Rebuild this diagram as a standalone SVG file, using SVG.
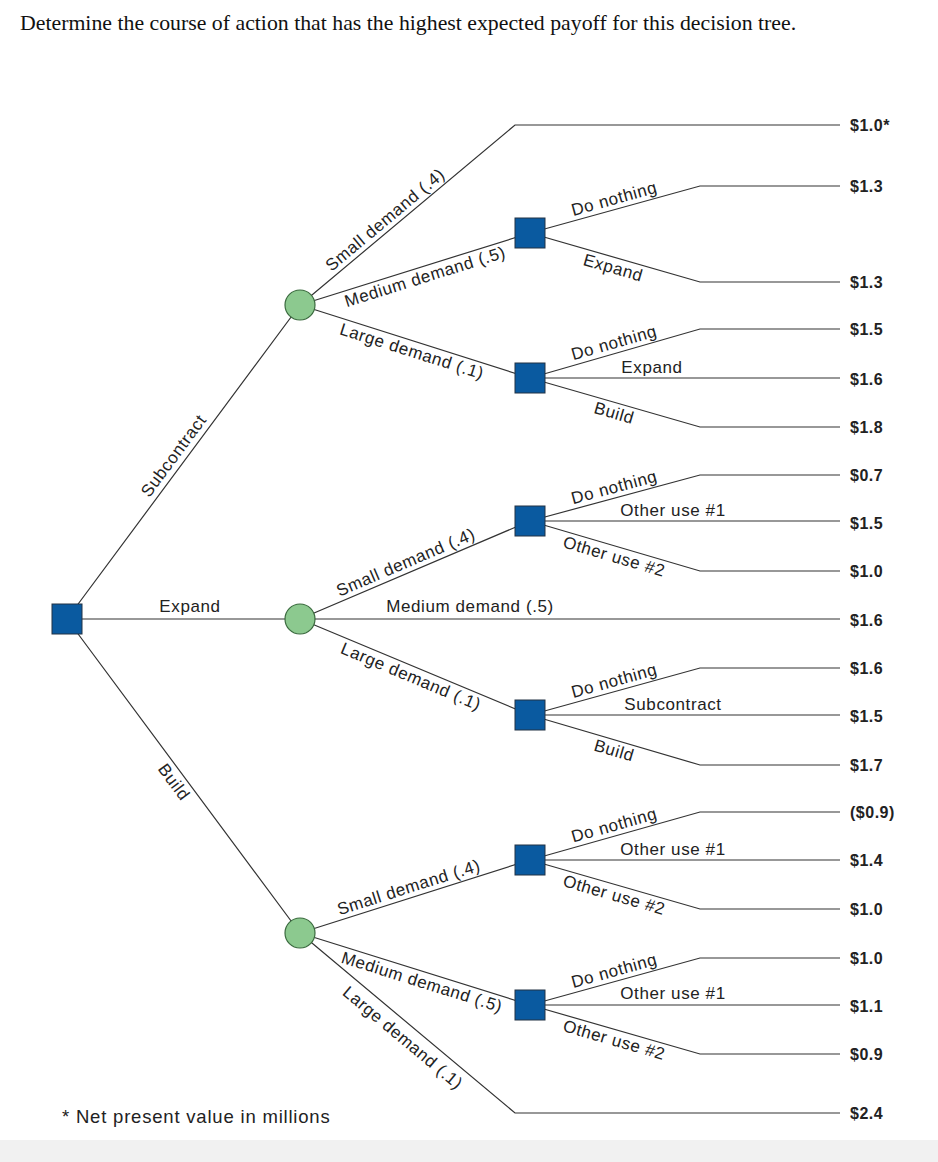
<svg xmlns="http://www.w3.org/2000/svg" width="938" height="1162" viewBox="0 0 938 1162">
<style>
.l{stroke:#333;stroke-width:1.2;fill:none}
.t{font-family:"Liberation Sans",Arial,sans-serif;font-size:17px;letter-spacing:0.6px;fill:#222;text-anchor:middle}
.p{font-family:"Liberation Sans",Arial,sans-serif;font-size:16px;letter-spacing:0.5px;font-weight:bold;fill:#222}
.d{fill:#0a5aa0;stroke:#234;stroke-width:1}
.c{fill:#8cc98f;stroke:#3a6a3e;stroke-width:1.2}
</style>
<rect width="938" height="1162" fill="#fff"/>
<rect y="1140" width="938" height="22" fill="#f1f1f1"/>
<text x="20" y="30" font-family="Liberation Serif,serif" font-size="21.8" fill="#111">Determine the course of action that has the highest expected payoff for this decision tree.</text>
<g id="connectors">
<path class="l" d="M67 619L300 305M67 619H300M67 619L300 933"/>
<path class="l" d="M300 305L515 125H840M300 305L530 233M300 305L530 378"/>
<path class="l" d="M530 233L700 186H840M530 233L700 282H840"/>
<path class="l" d="M530 378L700 329H840M530 378H840M530 378L700 427H840"/>
<path class="l" d="M300 619L530 521M300 619H840M300 619L530 715"/>
<path class="l" d="M530 521L700 475H840M530 521H840M530 521L700 571H840"/>
<path class="l" d="M530 715L700 668H840M530 715H840M530 715L700 765H840"/>
<path class="l" d="M300 933L530 860M300 933L530 1005M300 933L515 1113H840"/>
<path class="l" d="M530 860L700 812H840M530 860H840M530 860L700 909H840"/>
<path class="l" d="M530 1005L700 958H840M530 1005H840M530 1005L700 1054H840"/>
</g>
<g id="labels">
<text class="t" transform="translate(183,462.7) rotate(-53.4)" y="-6">Subcontract</text>
<text class="t" x="190" y="612">Expand</text>
<text class="t" transform="translate(183,775.3) rotate(53.4)" y="17">Build</text>
<text class="t" transform="translate(392,228) rotate(-39.9)" y="-5">Small demand (.4)</text>
<text class="t" transform="translate(422,266.8) rotate(-17.4)" y="16">Medium demand (.5)</text>
<text class="t" transform="translate(415,341.5) rotate(17.6)" y="16">Large demand (.1)</text>
<text class="t" transform="translate(617,209) rotate(-15.5)" y="-5">Do nothing</text>
<text class="t" transform="translate(616,257.8) rotate(16.1)" y="16">Expand</text>
<text class="t" transform="translate(617,352.9) rotate(-16.1)" y="-5">Do nothing</text>
<text class="t" x="652" y="373">Expand</text>
<text class="t" transform="translate(617,403.1) rotate(16.1)" y="16">Build</text>
<text class="t" transform="translate(410,572.1) rotate(-23.1)" y="-5">Small demand (.4)</text>
<text class="t" x="470" y="612">Medium demand (.5)</text>
<text class="t" transform="translate(415,667) rotate(22.7)" y="16">Large demand (.1)</text>
<text class="t" transform="translate(617,497.5) rotate(-15.1)" y="-5">Do nothing</text>
<text class="t" x="673" y="516">Other use #1</text>
<text class="t" transform="translate(617,546.6) rotate(16.4)" y="16">Other use #2</text>
<text class="t" transform="translate(617,691) rotate(-15.5)" y="-5">Do nothing</text>
<text class="t" x="673" y="710">Subcontract</text>
<text class="t" transform="translate(617,740.6) rotate(16.4)" y="16">Build</text>
<text class="t" transform="translate(412,897.5) rotate(-17.6)" y="-5">Small demand (.4)</text>
<text class="t" transform="translate(425,972.2) rotate(17.4)" y="16">Medium demand (.5)</text>
<text class="t" transform="translate(412,1026.8) rotate(39.9)" y="20">Large demand (.1)</text>
<text class="t" transform="translate(617,835.4) rotate(-15.8)" y="-5">Do nothing</text>
<text class="t" x="673" y="855">Other use #1</text>
<text class="t" transform="translate(617,885.1) rotate(16.1)" y="16">Other use #2</text>
<text class="t" transform="translate(617,981) rotate(-15.5)" y="-5">Do nothing</text>
<text class="t" x="673" y="999">Other use #1</text>
<text class="t" transform="translate(617,1030.1) rotate(16.1)" y="16">Other use #2</text>
</g>
<g id="payoffs">
<text class="p" x="850" y="131">$1.0*</text>
<text class="p" x="850" y="192">$1.3</text>
<text class="p" x="850" y="288">$1.3</text>
<text class="p" x="850" y="335">$1.5</text>
<text class="p" x="850" y="385">$1.6</text>
<text class="p" x="850" y="433">$1.8</text>
<text class="p" x="850" y="481">$0.7</text>
<text class="p" x="850" y="529">$1.5</text>
<text class="p" x="850" y="577">$1.0</text>
<text class="p" x="850" y="626">$1.6</text>
<text class="p" x="850" y="674">$1.6</text>
<text class="p" x="850" y="722">$1.5</text>
<text class="p" x="850" y="771">$1.7</text>
<text class="p" x="850" y="818">($0.9)</text>
<text class="p" x="850" y="866">$1.4</text>
<text class="p" x="850" y="915">$1.0</text>
<text class="p" x="850" y="964">$1.0</text>
<text class="p" x="850" y="1012">$1.1</text>
<text class="p" x="850" y="1060">$0.9</text>
<text class="p" x="850" y="1119">$2.4</text>
</g>
<g id="root"><rect class="d" x="52" y="604" width="30" height="30"/></g>
<g id="chance1"><circle class="c" cx="300" cy="305" r="15"/></g>
<g id="chance2"><circle class="c" cx="300" cy="619" r="15"/></g>
<g id="chance3"><circle class="c" cx="300" cy="933" r="15"/></g>
<g id="dec1"><rect class="d" x="515" y="218" width="30" height="30"/></g>
<g id="dec2"><rect class="d" x="515" y="363" width="30" height="30"/></g>
<g id="dec3"><rect class="d" x="515" y="506" width="30" height="30"/></g>
<g id="dec4"><rect class="d" x="515" y="700" width="30" height="30"/></g>
<g id="dec5"><rect class="d" x="515" y="845" width="30" height="30"/></g>
<g id="dec6"><rect class="d" x="515" y="990" width="30" height="30"/></g>
<text x="62" y="1123" font-family="Liberation Sans,Arial,sans-serif" font-size="18.5" letter-spacing="0.8" fill="#222">* Net present value in millions</text>
</svg>
